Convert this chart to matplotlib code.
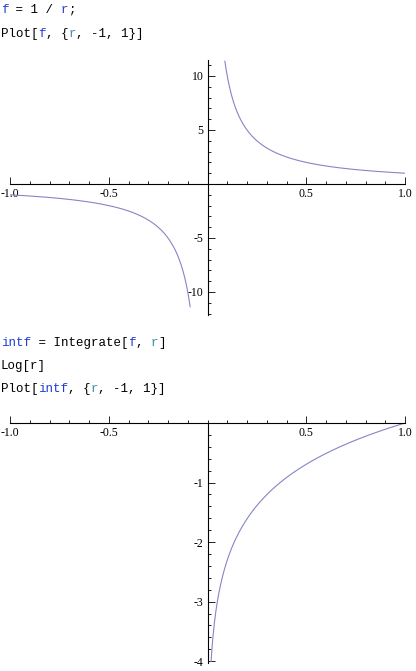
import numpy as np
import matplotlib
matplotlib.use("Agg")
import matplotlib.pyplot as plt
from matplotlib.ticker import MultipleLocator, FixedLocator, FixedFormatter

W, H = 416, 671
CURVE = "#8585c8"
BLUE = "#1f3fd0"
TEAL = "#3c8fa8"
CODE_FS = 9.0
CHAR_W = 0.6 * CODE_FS * 100 / 72  # monospace advance, pixels

# sample points of r for the two plotted functions
r_neg = np.linspace(-1.0, -0.088, 300)
r_pos = np.linspace(0.088, 1.0, 300)
f_neg = 1 / r_neg
f_pos = 1 / r_pos
r_log = np.linspace(0.0182, 1.0, 400)
intf = np.log(r_log)

x_ticks = [-1.0, -0.5, 0.5, 1.0]
y1_ticks = [-10, -5, 5, 10]
y2_ticks = [-4, -3, -2, -1]

fig = plt.figure(figsize=(W / 100, H / 100), dpi=100)


def code_line(y, parts):
    # parts: list of (text, color); monospace so offset by char count
    x = 1
    for txt, col in parts:
        fig.text(x / W, 1 - y / H, txt, color=col, family="Liberation Mono",
                 fontsize=CODE_FS, va="center", ha="left")
        x += len(txt) * CHAR_W


K = "black"
code_line(10, [("f", BLUE), (" = 1 / ", K), ("r", BLUE), (";", K)])
code_line(34, [("Plot[", K), ("f", BLUE), (", {", K), ("r", TEAL), (", -1, 1}]", K)])
code_line(343, [("intf", BLUE), (" = Integrate[", K), ("f", BLUE), (", ", K), ("r", TEAL), ("]", K)])
code_line(366, [("Log[r]", K)])
code_line(389, [("Plot[", K), ("intf", BLUE), (", {", K), ("r", TEAL), (", -1, 1}]", K)])


def axes_px(x0, y0, x1, y1):
    return fig.add_axes([x0 / W, 1 - y1 / H, (x1 - x0) / W, (y1 - y0) / H])


def style(ax, yticks, ymin):
    for s in ("top", "right"):
        ax.spines[s].set_visible(False)
    ax.spines["left"].set_position(("data", 0))
    ax.spines["bottom"].set_position(("data", 0))
    ax.xaxis.set_major_locator(FixedLocator(x_ticks))
    ax.xaxis.set_major_formatter(FixedFormatter([f"{v:.1f}" for v in x_ticks]))
    ax.xaxis.set_minor_locator(MultipleLocator(0.1))
    ax.yaxis.set_major_locator(FixedLocator(yticks))
    ax.yaxis.set_major_formatter(FixedFormatter([str(v) for v in yticks]))
    ax.yaxis.set_minor_locator(MultipleLocator(ymin))
    ax.tick_params(which="both", direction="in", width=0.6, labelsize=8.5)
    ax.tick_params(which="major", length=5, pad=3)
    ax.tick_params(which="minor", length=2.5)
    for lab in ax.get_xticklabels() + ax.get_yticklabels():
        lab.set_family("Liberation Serif")
    for s in ax.spines.values():
        s.set_linewidth(0.8)
    ax.patch.set_alpha(0)


ax1 = axes_px(10, 60, 405, 315)
ax1.plot(r_neg, f_neg, color=CURVE, lw=0.8)
ax1.plot(r_pos, f_pos, color=CURVE, lw=0.8)
ax1.set_xlim(-1, 1)
ax1.set_ylim(-12.13, 11.48)
style(ax1, y1_ticks, 1)

ax2 = axes_px(10, 423, 405, 663)
ax2.plot(r_log, intf, color=CURVE, lw=0.8)
ax2.set_xlim(-1, 1)
ax2.set_ylim(-4.03, 0)
style(ax2, y2_ticks, 0.2)

fig.savefig("out.png", dpi=100)
